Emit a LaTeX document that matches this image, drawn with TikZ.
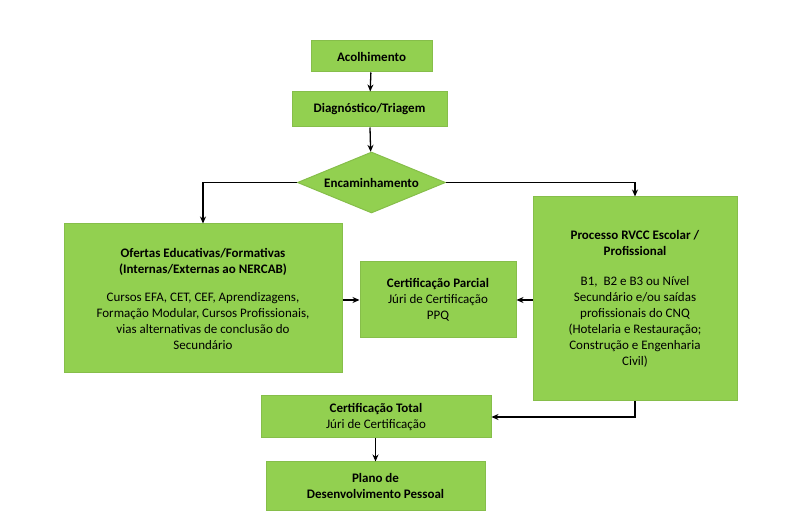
\documentclass[tikz,border=0pt]{standalone}
\usepackage{fontspec}
\setmainfont{Carlito}
\usetikzlibrary{shapes.geometric,arrows.meta}
\definecolor{gfill}{HTML}{92D050}
\definecolor{gline}{HTML}{86BE4A}
\begin{document}
\begin{tikzpicture}[x=1pt,y=-1pt,
 box/.style={draw=gline,fill=gfill,line width=1pt,align=center,inner sep=0pt,font=\fontsize{13}{16}\selectfont},
 arr/.style={-{Stealth[length=7pt,width=6pt]},line width=1.3pt}]
\useasboundingbox (0,0) rectangle (796,529);
\node[box,minimum width=121pt,minimum height=31pt] (a) at (371.5,56.5) {\textbf{Acolhimento}};
\node[box,minimum width=155pt,minimum height=35pt] (d) at (369.5,109.5) {\textbf{Diagnóstico/Triagem}};
\node[box,diamond,aspect=2.4,minimum width=148pt,minimum height=61pt] (e) at (371.5,182.5) {\textbf{Encaminhamento}};
\node[box,minimum width=278pt,minimum height=149pt] (o) at (203,298.5) {\textbf{Ofertas Educativas/Formativas}\\\textbf{(Internas/Externas ao NERCAB)}\\[12pt]Cursos EFA, CET, CEF, Aprendizagens,\\Formação Modular, Cursos Profissionais,\\vias alternativas de conclusão do\\Secundário};
\node[box,minimum width=156pt,minimum height=76pt] (p) at (438,300) {\textbf{Certificação Parcial}\\Júri de Certificação\\PPQ};
\node[box,minimum width=204pt,minimum height=204pt] (r) at (635,299) {\textbf{Processo RVCC Escolar /}\\\textbf{Profissional}\\[14pt]B1,\ \ B2 e B3 ou Nível\\Secundário e/ou saídas\\profissionais do CNQ\\(Hotelaria e Restauração;\\Construção e Engenharia\\Civil)};
\node[box,minimum width=230pt,minimum height=42pt] (t) at (376,417) {\textbf{Certificação Total}\\Júri de Certificação};
\node[box,minimum width=219pt,minimum height=48pt] (l) at (375.5,486) {\textbf{Plano de}\\\textbf{Desenvolvimento Pessoal}};
\draw[arr] (a) -- (d);
\draw[arr] (d) -- (e);
\draw[arr] (e.west) -| (o.north);
\draw[arr] (e.east) -| (r.north);
\draw[arr] (o.east|-p) -- (p.west);
\draw[arr] (r.west|-p) -- (p.east);
\draw[arr] (r.south) |- (t.east);
\draw[arr] (t.south-|l) -- (l.north);
\end{tikzpicture}
\end{document}
